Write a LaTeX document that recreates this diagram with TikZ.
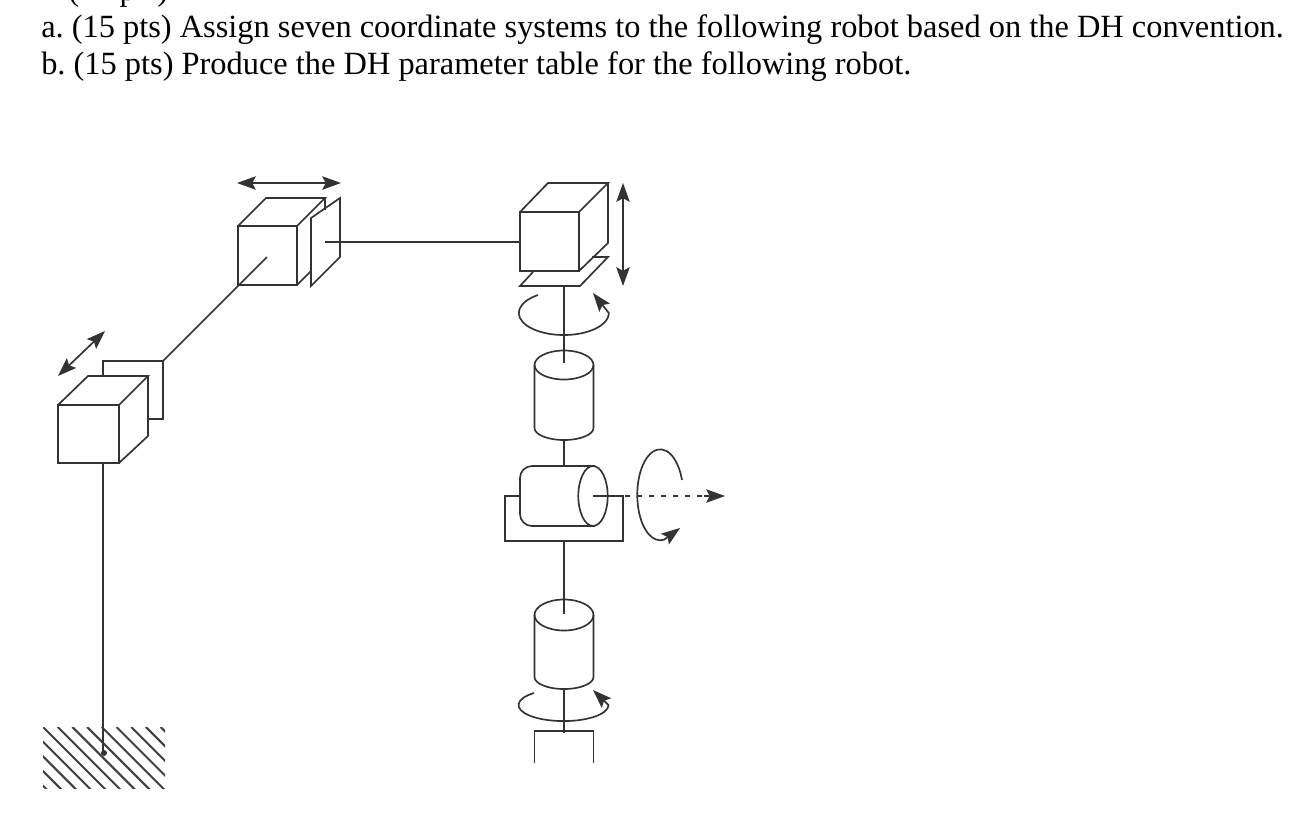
\documentclass[tikz,border=0pt]{standalone}
\usepackage{fontspec}
\setmainfont{Liberation Serif}
\usetikzlibrary{arrows.meta}
\tikzset{
    >={Stealth[length=14pt,width=10pt,inset=2.5pt]},
    robotline/.style={draw=black!80, line width=1.25pt, line join=miter},
    hatchline/.style={draw=black!75, line width=1.5pt},
    dashline/.style={robotline, dash pattern=on 3.75pt off 5.25pt},
    tasktext/.style={anchor=base west, inner sep=0pt, font=\fontsize{24.3pt}{29pt}\selectfont},
    px/.style={x=0.75pt, y=0.75pt, yscale=-1}
}
\begin{document}
\frenchspacing
\begin{tikzpicture}[px]
\useasboundingbox (0,0) rectangle (1302,832);
\fill[white] (0,0) rectangle (1302,832);
\node[tasktext] (hiddenline) at (68,0.5) {(\phantom{15} p\phantom{ts})};
\node[tasktext] (parta) at (41,37.5) {a. (15 pts) Assign seven coordinate systems to the following robot based on the DH convention.};
\node[tasktext] (partb) at (41,74.5) {b. (15 pts) Produce the DH parameter table for the following robot.};

\begin{scope}
    \clip (43,727) rectangle (165,788);
    \foreach \k in {-4,...,8}
        \draw[hatchline] ({43+\k*14.7},727) -- ++(80,80);
\end{scope}

% left cube, bracket and column
\draw[robotline] (58,405) rectangle (119,463);
\draw[robotline] (58,405) -- (88,376) -- (148,376) -- (119,405);
\draw[robotline] (148,376) -- (148,436) -- (119,463);
\draw[robotline] (103,376) -- (103,361) -- (163,361) -- (163,419) -- (148,419);
\draw[robotline] (103,463) -- (103,753);
\fill[black!80] (104,753) circle (3);
\draw[robotline, <->] (58,376) -- (105,331);

% middle cube and plate
\draw[robotline] (163,361) -- (267,257);
\draw[robotline] (238,226) rectangle (297,285);
\draw[robotline] (238,226) -- (266,198) -- (325,198) -- (297,226);
\draw[robotline] (325,198) -- (325,210);
\draw[robotline] (297,285) -- (311,271);
\draw[robotline] (311,218) -- (340,198) -- (340,257) -- (311,286) -- cycle;
\draw[robotline] (325,242) -- (520,242);
\draw[robotline, <->] (237,183) -- (341,183);

% right cube and plate
\draw[robotline] (520,212) rectangle (579,271);
\draw[robotline] (520,212) -- (548,183) -- (608,183) -- (579,212);
\draw[robotline] (608,183) -- (608,243) -- (579,271);
\draw[robotline] (533,272) -- (520,286) -- (580,286) -- (608,257) -- (592,257);
\draw[robotline, <->] (623,183) -- (623,286);
\draw[robotline] (564,286) -- (564,363);
\draw[robotline, ->] (538,295) arc[start angle=-125, end angle=-360, x radius=45, y radius=22] -- (593,293);

% upper cylinder
\draw[robotline] (564,365) ellipse[x radius=29.5, y radius=14.5];
\draw[robotline] (534.5,365) -- (534.5,428) arc[start angle=-180, end angle=-360, x radius=29.5, y radius=12] -- (593.5,365);
\draw[robotline] (564,440) -- (564,466);

% horizontal cylinder on its base
\draw[robotline] (595,466) -- (532,466) arc[start angle=-90, end angle=-180, x radius=12, y radius=12] -- (520,514) arc[start angle=-180, end angle=-270, x radius=12, y radius=12] -- (595,526);
\draw[robotline] (593,496) ellipse[x radius=14.7, y radius=30];
\draw[robotline] (520,496) -- (505,496) -- (505,541) -- (623,541) -- (623,496) -- (593,496);
\draw[dashline] (625,496) -- (705,496);
\draw[robotline, ->] (704,496) -- (725,496);
\draw[robotline, ->] (682,480) arc[start angle=-19, end angle=-280, x radius=23, y radius=45.5] -- (680,528);
\draw[robotline] (564,541) -- (564,614);

% lower cylinder
\draw[robotline] (564,615) ellipse[x radius=29.5, y radius=15.5];
\draw[robotline] (534.5,615) -- (534.5,677) arc[start angle=-180, end angle=-360, x radius=29.5, y radius=12] -- (593.5,615);
\draw[robotline] (564,689) -- (564,733);
\draw[robotline, ->] (534,693) arc[start angle=-131, end angle=-360, x radius=45, y radius=16] -- (593,690);

% foot
\draw[robotline] (534.5,763) -- (534.5,731) -- (593.5,731) -- (593.5,763);
\end{tikzpicture}
\end{document}
